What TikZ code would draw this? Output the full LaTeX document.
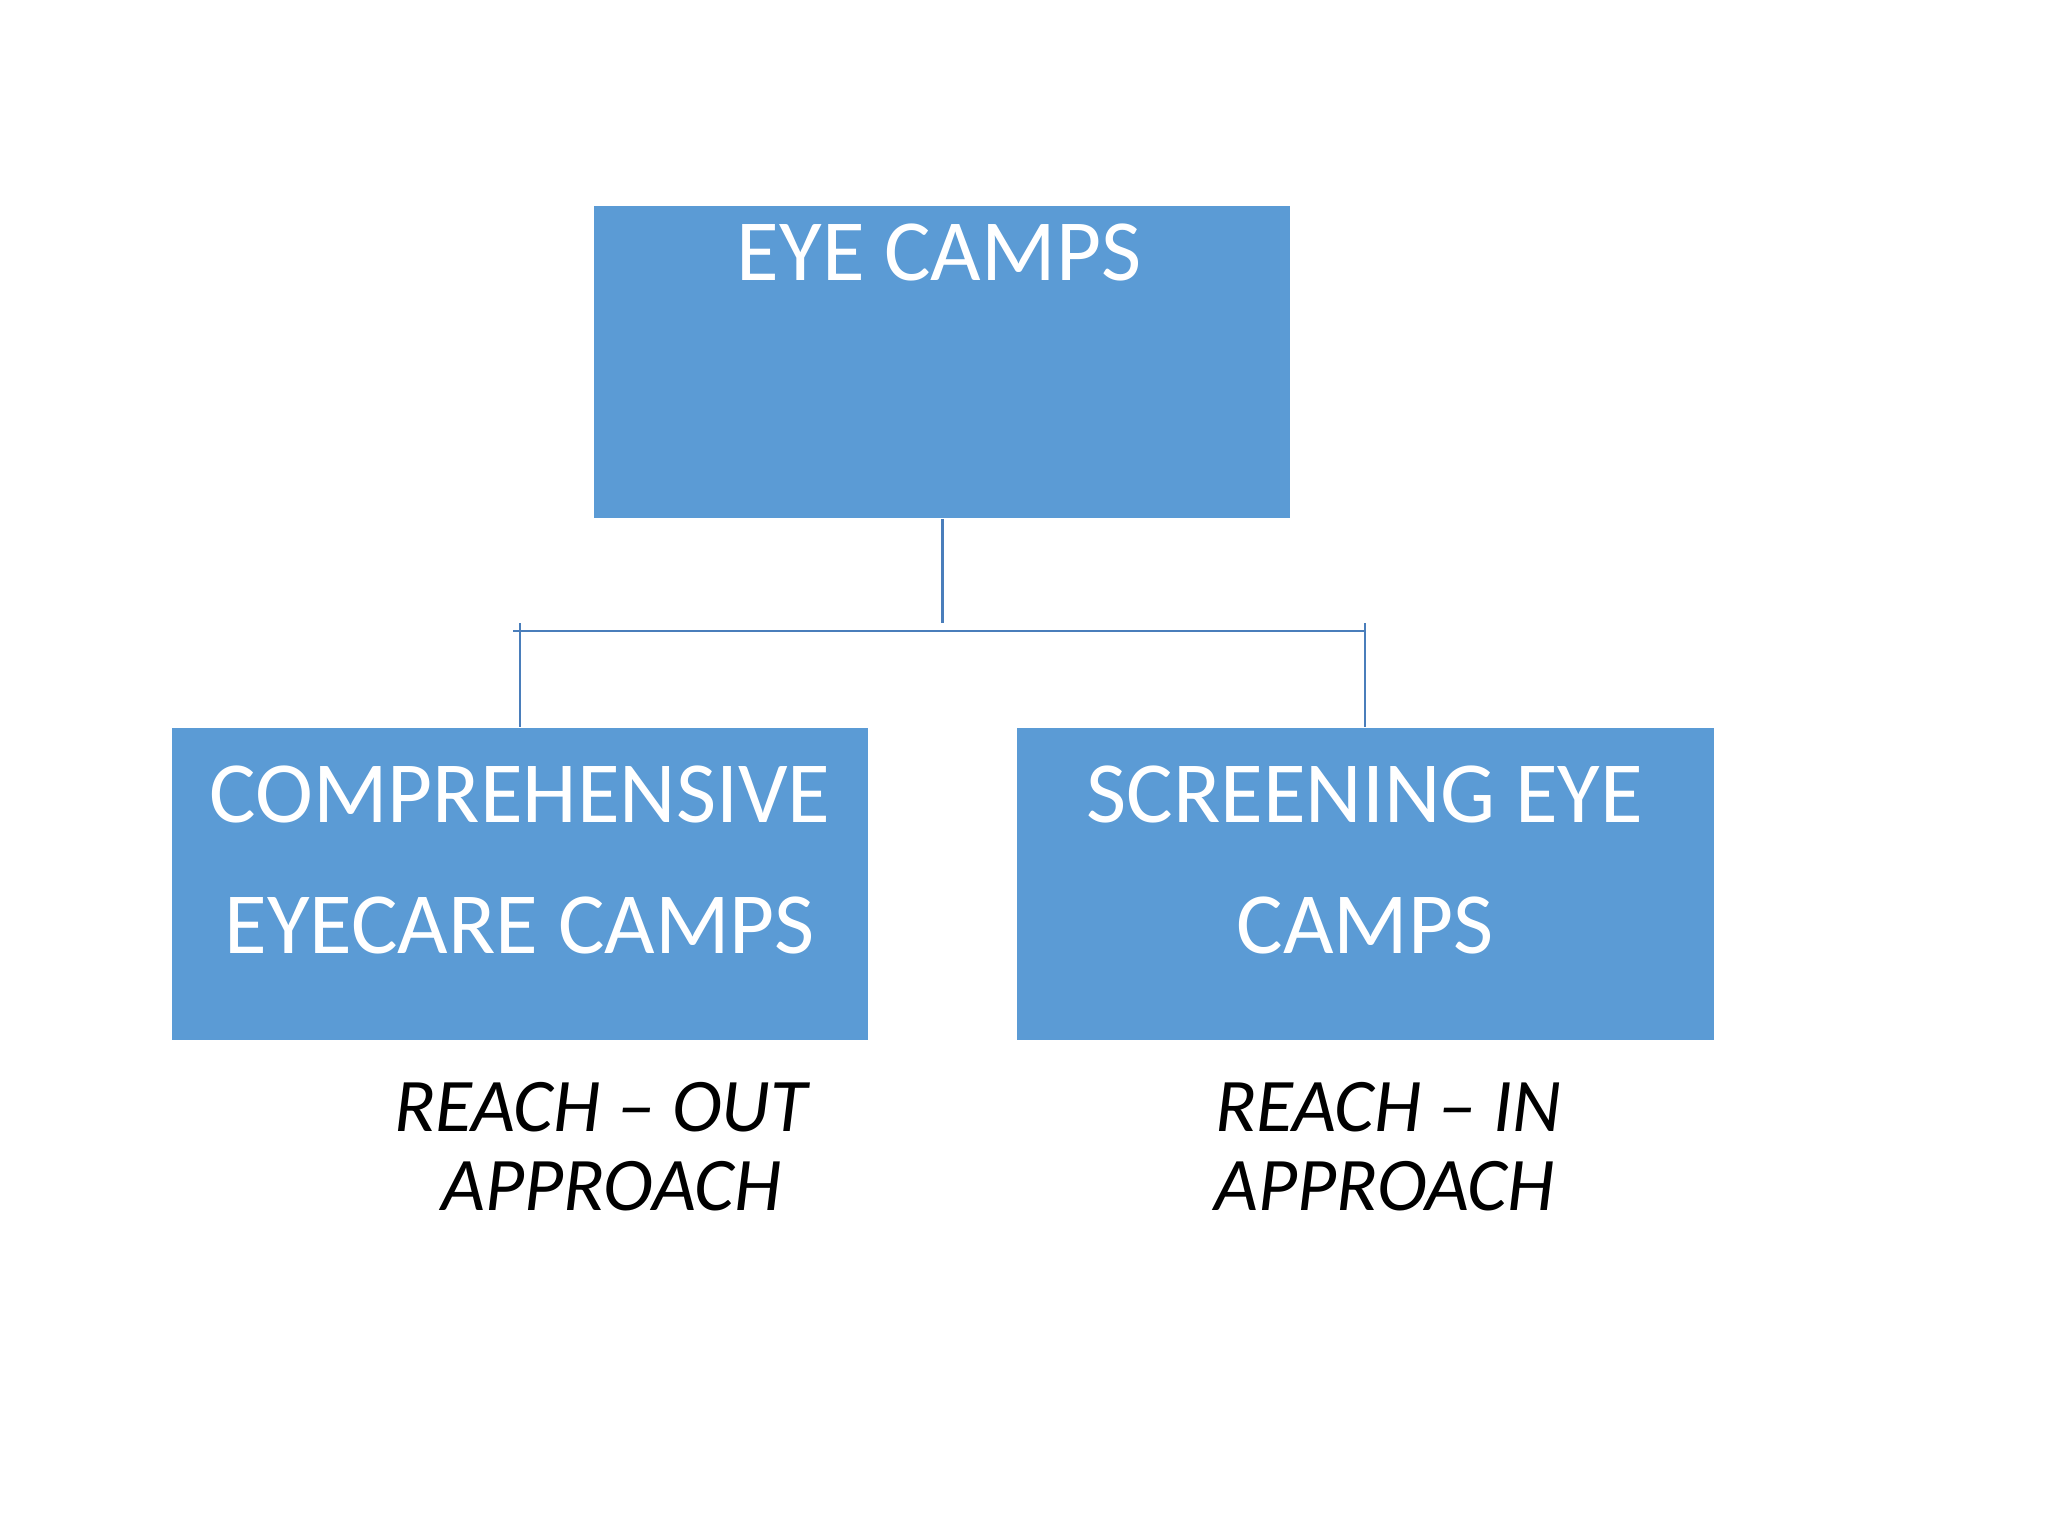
\documentclass[tikz,border=0pt]{standalone}
\usepackage{fontspec}
\setmainfont{Carlito}
\definecolor{boxblue}{HTML}{5B9BD5}
\definecolor{lineblue}{HTML}{4A7EBB}
\begin{document}
\begin{tikzpicture}[x=0.01cm,y=-0.01cm,
  box/.style={draw=none,fill=boxblue,inner sep=0,minimum width=533*0.01cm,minimum height=239*0.01cm},
  btxt/.style={text=white,font=\fontsize{19}{28.5}\selectfont,align=center,inner sep=0},
  itxt/.style={font=\fontsize{16.5}{17}\selectfont\itshape,inner sep=0},
  conn/.style={draw=lineblue,line width=0.5pt}]
\useasboundingbox (0,0) rectangle (1568,1176);
\fill[white] (0,0) rectangle (1568,1176);
\node[box] (top) at (721.5,277) {};
\node[box] (left) at (398,676.5) {};
\node[box] (right) at (1045.5,676.5) {};
\node[btxt,anchor=base] (t1) at (719,215) {EYE CAMPS};
\node[btxt,anchor=base] (l1) at (398,630) {COMPREHENSIVE};
\node[btxt,anchor=base] (l2) at (398,730) {EYECARE CAMPS};
\node[btxt,anchor=base] (r1) at (1045,630) {SCREENING EYE};
\node[btxt,anchor=base] (r2) at (1045,730) {CAMPS};
\node[itxt,anchor=base] (a1) at (460,866) {REACH – OUT};
\node[itxt,anchor=base] (a2) at (468,927) {APPROACH};
\node[itxt,anchor=base] (b1) at (1063,866) {REACH – IN};
\node[itxt,anchor=base] (b2) at (1060,927) {APPROACH};
\coordinate (hl) at (393,483);
\coordinate (hr) at (1045,483);
\coordinate (lt) at (398,477);
\coordinate (rt) at (1045,477);
\draw[conn] (top.south) -- ([yshift=-80*0.01cm]top.south);
\draw[conn] (hl) -- (hr);
\draw[conn] (lt) -- (lt |- left.north);
\draw[conn] (rt) -- (rt |- right.north);
\end{tikzpicture}
\end{document}
